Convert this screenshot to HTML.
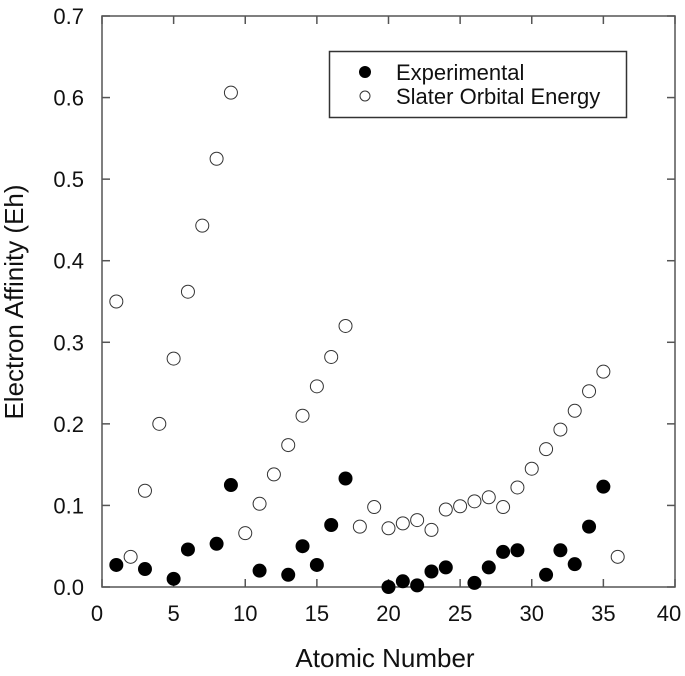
<!DOCTYPE html>
<html><head><meta charset="utf-8"><style>
body{margin:0;background:#fff;font-family:"Liberation Sans",Arial,sans-serif}
svg text{font-family:"Liberation Sans",Arial,sans-serif;fill:#111}
</style></head><body>
<svg id="chart" width="685" height="671" xmlns="http://www.w3.org/2000/svg">
<g id="axes"></g><g id="marks"></g>
<g>
<rect x="329.5" y="51.5" width="297" height="66" fill="#fff" stroke="#333" stroke-width="1.5"/>
<circle cx="365" cy="72" r="6" fill="#000"/>
<circle cx="365" cy="96" r="5" fill="#fff" stroke="#333" stroke-width="1"/>
<text x="396" y="80" font-size="22">Experimental</text>
<text x="396" y="104" font-size="22">Slater Orbital Energy</text>
</g>
<text x="385" y="667" font-size="26" text-anchor="middle">Atomic Number</text>
<text transform="translate(23,302) rotate(-90)" font-size="26" text-anchor="middle">Electron Affinity (Eh)</text>
</svg>
<script>
const expZ=[1,3,5,6,8,9,11,13,14,15,16,17,20,21,22,23,24,26,27,28,29,31,32,33,34,35];
const expVal=[0.027,0.022,0.010,0.046,0.053,0.125,0.020,0.015,0.050,0.027,0.076,0.133,0.0,0.007,0.002,0.019,0.024,0.005,0.024,0.043,0.045,0.015,0.045,0.028,0.074,0.123];
const slZ=[1,2,3,4,5,6,7,8,9,10,11,12,13,14,15,16,17,18,19,20,21,22,23,24,25,26,27,28,29,30,31,32,33,34,35,36];
const slVal=[0.35,0.037,0.118,0.20,0.28,0.362,0.443,0.525,0.606,0.066,0.102,0.138,0.174,0.210,0.246,0.282,0.32,0.074,0.098,0.072,0.078,0.082,0.070,0.095,0.099,0.105,0.110,0.098,0.122,0.145,0.169,0.193,0.216,0.240,0.264,0.037];
const xTicks=[0,5,10,15,20,25,30,35,40];
const yTicks=["0.0","0.1","0.2","0.3","0.4","0.5","0.6","0.7"];
const L=102,R=675,T=16,B=587;
const sx=v=>L+(v/40)*(R-L), sy=v=>B-(v/0.7)*(B-T);
const NS="http://www.w3.org/2000/svg";
const ax=document.getElementById('axes'), mk=document.getElementById('marks');
function mkEl(t,a,p){const e=document.createElementNS(NS,t);for(const k in a)e.setAttribute(k,a[k]);p.appendChild(e);return e;}
const fr=mkEl('rect',{x:L,y:T,width:R-L,height:B-T,fill:'none',stroke:'#555','stroke-width':1.5},ax);


xTicks.forEach(v=>{const x=sx(v);
 mkEl('line',{x1:x,x2:x,y1:B,y2:B-8,stroke:'#555','stroke-width':1.5},ax);
 mkEl('line',{x1:x,x2:x,y1:T,y2:T+8,stroke:'#555','stroke-width':1.5},ax);
 const t=mkEl('text',{x:x-(v==40?6:(v==0?5:0)),y:B+34,'font-size':22,'text-anchor':'middle'},ax);t.textContent=v;
 
 });
yTicks.forEach(s=>{const y=sy(parseFloat(s));
 mkEl('line',{x1:L,x2:L+8,y1:y,y2:y,stroke:'#555','stroke-width':1.5},ax);
 mkEl('line',{x1:R,x2:R-8,y1:y,y2:y,stroke:'#555','stroke-width':1.5},ax);
 const t=mkEl('text',{x:L-18,y:y+8,'font-size':22,'text-anchor':'end'},ax);t.textContent=s;
 
 });
slZ.forEach((z,i)=>{const c=mkEl('circle',{cx:sx(z),cy:sy(slVal[i]),r:6.5,fill:'#fff',stroke:'#333','stroke-width':1},mk);
 
 });
expZ.forEach((z,i)=>{const c=mkEl('circle',{cx:sx(z),cy:sy(expVal[i]),r:7,fill:'#000'},mk);
 
 });
</script>
</body></html>
